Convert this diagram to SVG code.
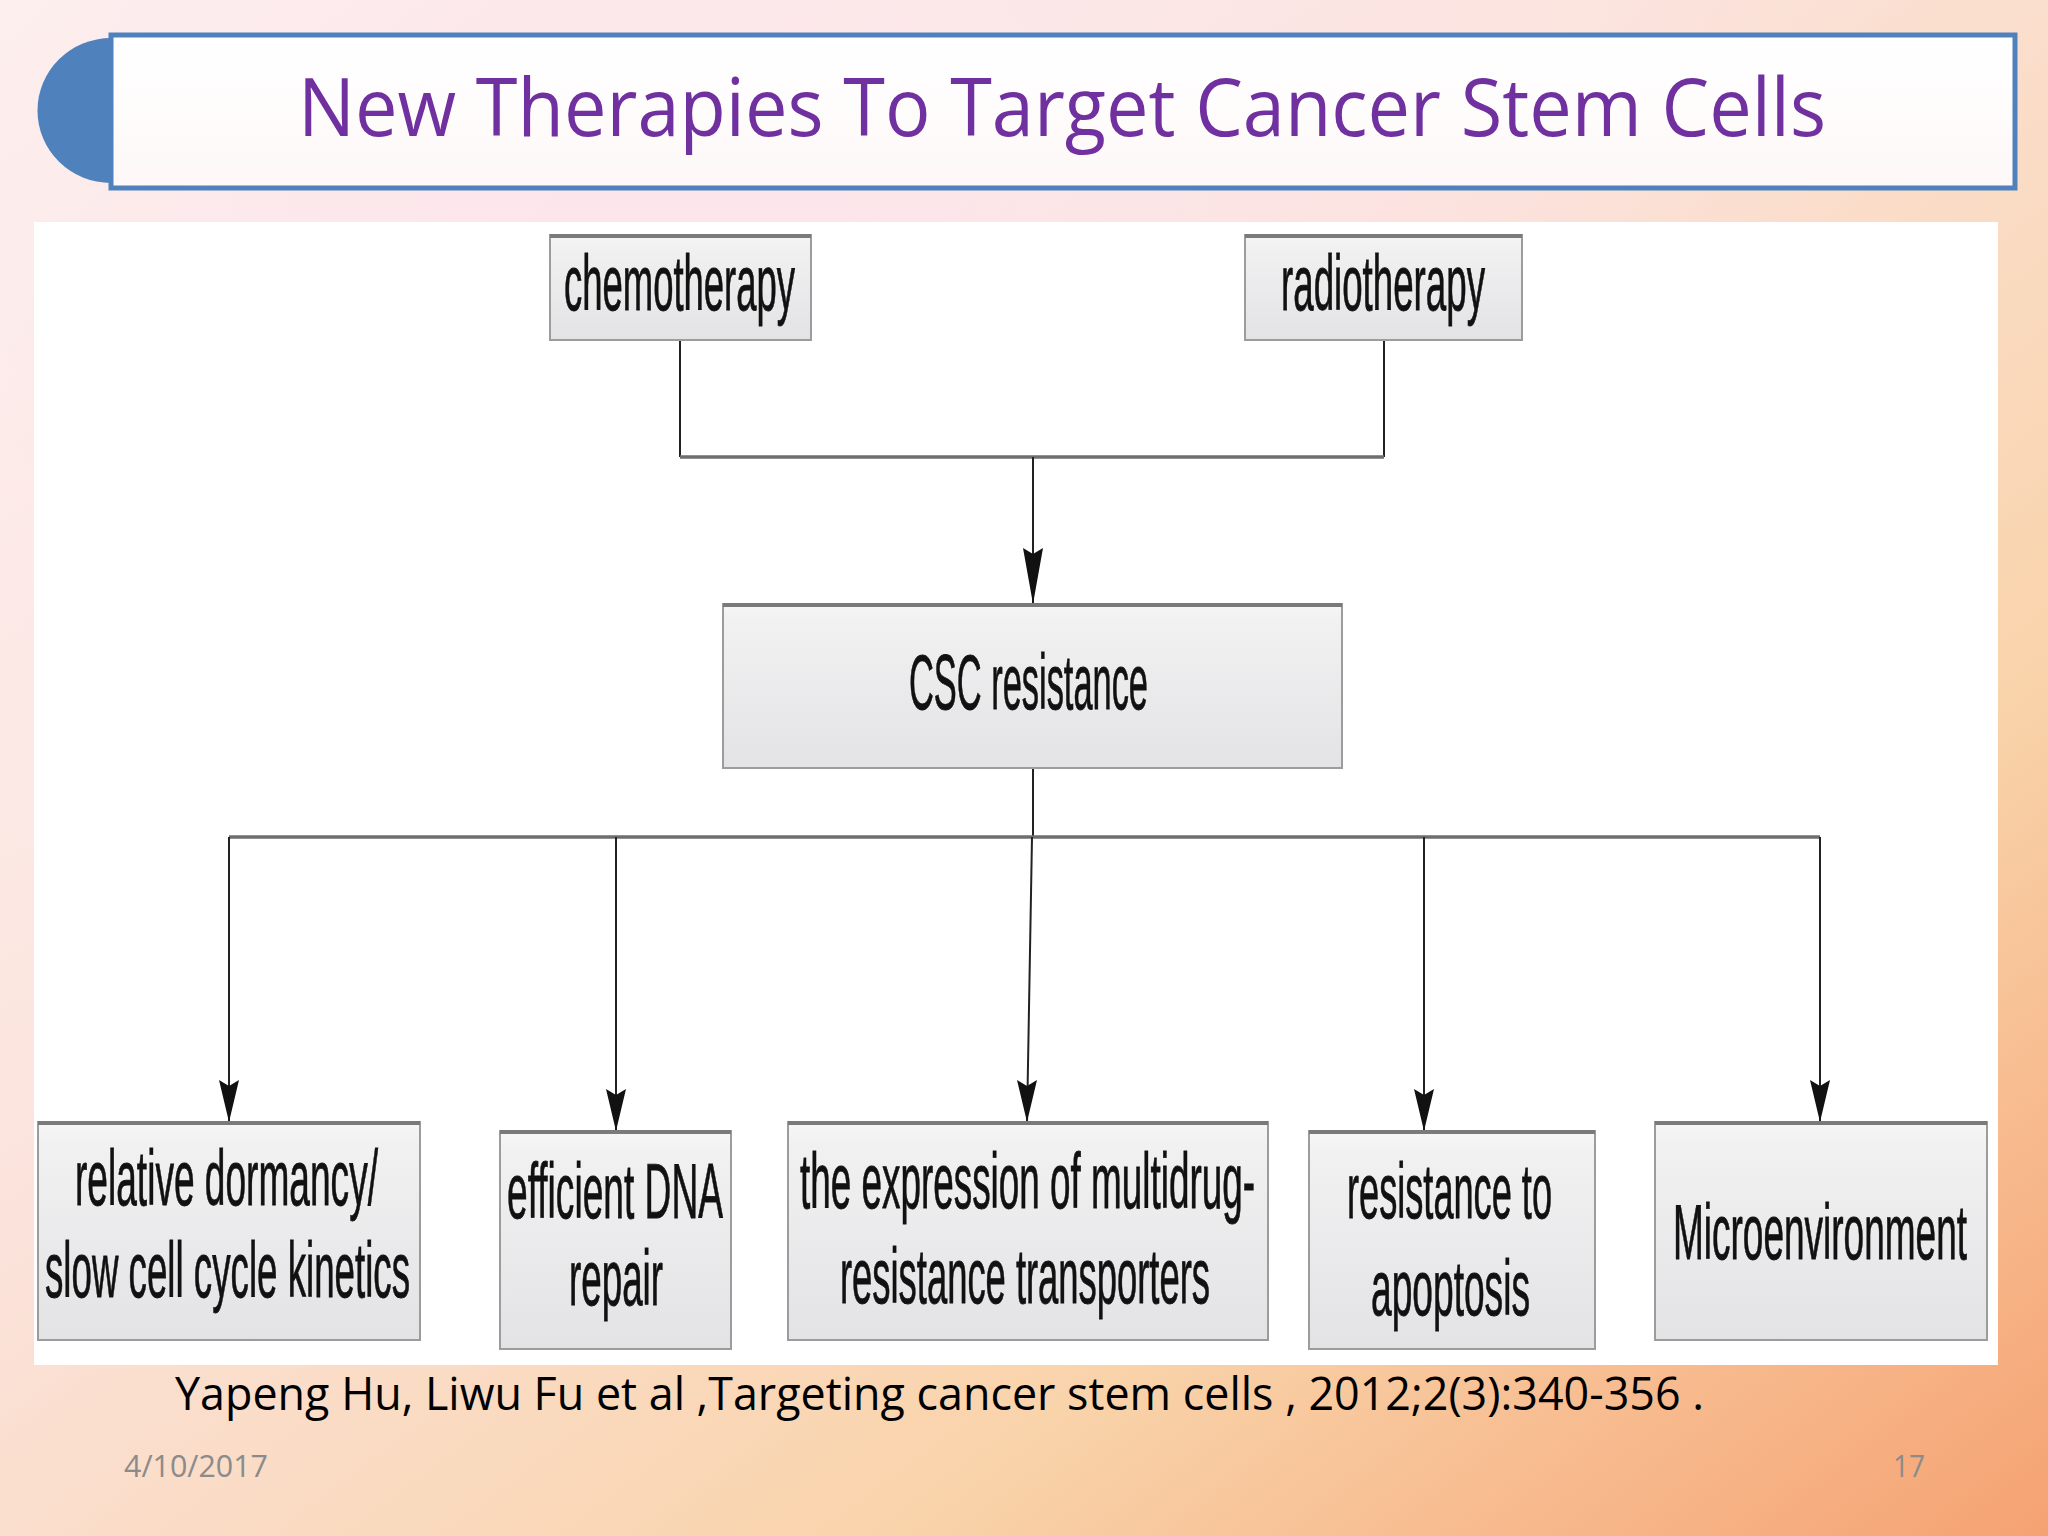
<svg xmlns="http://www.w3.org/2000/svg" width="2048" height="1536" viewBox="0 0 2048 1536">
<defs>
<linearGradient id="bg" x1="0" y1="0" x2="1" y2="1">
<stop offset="0" stop-color="#fdf5ee"/>
<stop offset="0.4" stop-color="#fbe3dc"/>
<stop offset="0.72" stop-color="#f9d3aa"/>
<stop offset="1" stop-color="#f5a272"/>
</linearGradient>
<radialGradient id="pink" cx="0.3" cy="0.15" r="0.6">
<stop offset="0" stop-color="#fce4ee" stop-opacity="0.8"/>
<stop offset="1" stop-color="#fce4ee" stop-opacity="0"/>
</radialGradient>
<linearGradient id="boxfill" x1="0" y1="0" x2="0" y2="1">
<stop offset="0" stop-color="#f6f6f6"/>
<stop offset="0.1" stop-color="#f1f1f2"/>
<stop offset="1" stop-color="#e3e3e5"/>
</linearGradient>
<linearGradient id="titlefill" x1="0" y1="0" x2="0" y2="1">
<stop offset="0" stop-color="#ffffff"/>
<stop offset="1" stop-color="#fef8f8"/>
</linearGradient>
<marker id="arr" markerUnits="userSpaceOnUse" markerWidth="20" markerHeight="42" viewBox="0 0 20 42" refX="10" refY="42">
<path d="M0 0 L10 6 L20 0 L10 42 Z" fill="#111"/>
</marker>
<marker id="arrbig" markerUnits="userSpaceOnUse" markerWidth="20" markerHeight="56" viewBox="0 0 20 56" refX="10" refY="56">
<path d="M0 0 L10 6 L20 0 L10 56 Z" fill="#111"/>
</marker>
<style>
.box{fill:url(#boxfill);stroke:#9c9c9c;stroke-width:2}
.topedge{stroke:#7a7a7a;stroke-width:4}
.lbl{font-family:"Liberation Sans Narrow","Liberation Sans",Arial,sans-serif;font-size:78px;fill:#111;stroke:#111;stroke-width:0.8}
.bus{stroke:#6e6e6e;stroke-width:3.5;fill:none}
.wire{stroke:#222;stroke-width:2;fill:none}
</style>
</defs>
<rect width="2048" height="1536" fill="url(#bg)"/>
<rect width="2048" height="1536" fill="url(#pink)"/>

<g id="title">
<path d="M111 38 A73 72 0 0 0 111 183 Z" fill="#4f81bd"/>
<rect x="111" y="35" width="1904" height="153" fill="url(#titlefill)" stroke="#4f81bd" stroke-width="5"/>
<text x="298" y="136" font-family="'Open Sans','Noto Sans',sans-serif" font-size="80" fill="#7030a0" textLength="1528" lengthAdjust="spacingAndGlyphs">New Therapies To Target Cancer Stem Cells</text>
</g>

<rect id="panel" x="34" y="222" width="1964" height="1143" fill="#ffffff"/>

<g id="connectors">
<polyline class="wire" points="680,340 680,457"/>
<polyline class="wire" points="1384,340 1384,457"/>
<line class="bus" x1="680" y1="457" x2="1384" y2="457"/>
<line class="wire" x1="1033" y1="457" x2="1033" y2="604" marker-end="url(#arrbig)"/>
<line class="wire" x1="1033" y1="768" x2="1033" y2="837"/>
<line class="bus" x1="229" y1="837" x2="1820" y2="837"/>
<line class="wire" x1="229" y1="837" x2="229" y2="1122" marker-end="url(#arr)"/>
<line class="wire" x1="616" y1="837" x2="616" y2="1131" marker-end="url(#arr)"/>
<line class="wire" x1="1032" y1="837" x2="1027" y2="1122" marker-end="url(#arr)"/>
<line class="wire" x1="1424" y1="837" x2="1424" y2="1131" marker-end="url(#arr)"/>
<line class="wire" x1="1820" y1="837" x2="1820" y2="1122" marker-end="url(#arr)"/>
</g>

<g id="chemotherapy">
<rect class="box" x="550" y="235" width="261" height="105"/>
<line class="topedge" x1="550" y1="236" x2="811" y2="236"/>
<text class="lbl" x="564" y="310" textLength="231" lengthAdjust="spacingAndGlyphs">chemotherapy</text>
</g>
<g id="radiotherapy">
<rect class="box" x="1245" y="235" width="277" height="105"/>
<line class="topedge" x1="1245" y1="236" x2="1522" y2="236"/>
<text class="lbl" x="1281" y="310" textLength="204" lengthAdjust="spacingAndGlyphs">radiotherapy</text>
</g>
<g id="csc">
<rect class="box" x="723" y="604" width="619" height="164"/>
<line class="topedge" x1="723" y1="605" x2="1342" y2="605"/>
<text class="lbl" x="909" y="709" textLength="239" lengthAdjust="spacingAndGlyphs">CSC resistance</text>
</g>
<g id="dormancy">
<rect class="box" x="38" y="1122" width="382" height="218"/>
<line class="topedge" x1="38" y1="1123" x2="420" y2="1123"/>
<text class="lbl" x="75" y="1205" textLength="303" lengthAdjust="spacingAndGlyphs">relative dormancy/</text>
<text class="lbl" x="45" y="1297" textLength="365" lengthAdjust="spacingAndGlyphs">slow cell cycle kinetics</text>
</g>
<g id="dna">
<rect class="box" x="500" y="1131" width="231" height="218"/>
<line class="topedge" x1="500" y1="1132" x2="731" y2="1132"/>
<text class="lbl" x="507" y="1218" textLength="216" lengthAdjust="spacingAndGlyphs">efficient DNA</text>
<text class="lbl" x="569" y="1305" textLength="94" lengthAdjust="spacingAndGlyphs">repair</text>
</g>
<g id="multidrug">
<rect class="box" x="788" y="1122" width="480" height="218"/>
<line class="topedge" x1="788" y1="1123" x2="1268" y2="1123"/>
<text class="lbl" x="800" y="1208" textLength="455" lengthAdjust="spacingAndGlyphs">the expression of multidrug-</text>
<text class="lbl" x="840" y="1303" textLength="370" lengthAdjust="spacingAndGlyphs">resistance transporters</text>
</g>
<g id="apoptosis">
<rect class="box" x="1309" y="1131" width="286" height="218"/>
<line class="topedge" x1="1309" y1="1132" x2="1595" y2="1132"/>
<text class="lbl" x="1347" y="1218" textLength="205" lengthAdjust="spacingAndGlyphs">resistance to</text>
<text class="lbl" x="1371" y="1315" textLength="159" lengthAdjust="spacingAndGlyphs">apoptosis</text>
</g>
<g id="microenvironment">
<rect class="box" x="1655" y="1122" width="332" height="218"/>
<line class="topedge" x1="1655" y1="1123" x2="1987" y2="1123"/>
<text class="lbl" x="1673" y="1259" textLength="294" lengthAdjust="spacingAndGlyphs">Microenvironment</text>
</g>

<text x="175" y="1410" font-family="'Open Sans','Noto Sans',sans-serif" font-size="46" fill="#000" textLength="1529" lengthAdjust="spacingAndGlyphs">Yapeng Hu, Liwu Fu et al ,Targeting cancer stem cells , 2012;2(3):340-356 .</text>
<text x="124" y="1477" font-family="'Open Sans','Noto Sans',sans-serif" font-size="31" fill="#8b8b8b" textLength="144" lengthAdjust="spacingAndGlyphs">4/10/2017</text>
<text x="1893" y="1477" font-family="'Open Sans','Noto Sans',sans-serif" font-size="31" fill="#8b8b8b" textLength="32" lengthAdjust="spacingAndGlyphs">17</text>
</svg>
